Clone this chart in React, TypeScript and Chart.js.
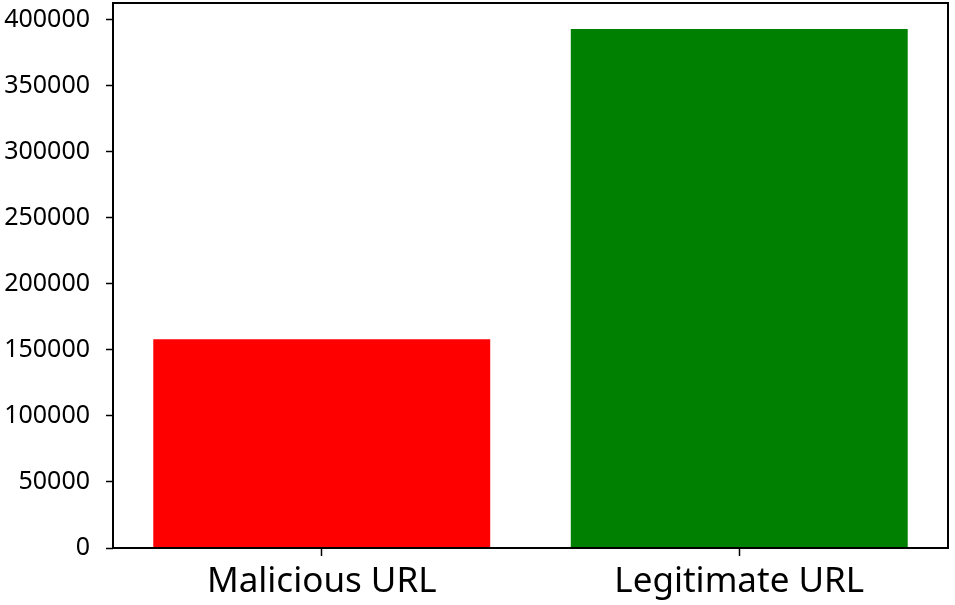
// @ts-nocheck
import React, { useEffect, useRef } from "react";
import { Chart, registerables } from "chart.js";

Chart.register(...registerables);

const categories = ["Malicious URL", "Legitimate URL"];
const counts = [158100, 393200];
const barColors = ["#ff0000", "#008000"];
const yTicks = [0, 50000, 100000, 150000, 200000, 250000, 300000, 350000, 400000];

// draws the full axes box like matplotlib
const frameBox = {
    id: "frameBox",
    afterDraw(chart) {
        const { ctx, chartArea } = chart;
        ctx.save();
        ctx.strokeStyle = "#000";
        ctx.lineWidth = 2;
        ctx.strokeRect(chartArea.left, chartArea.top, chartArea.right - chartArea.left, chartArea.bottom - chartArea.top);
        ctx.restore();
    },
};

const App: React.FC = () => {
    const canvasRef = useRef(null);

    useEffect(() => {
        document.body.style.margin = "0";
        if (!canvasRef.current) return;

        const chart = new Chart(canvasRef.current, {
            type: "bar",
            data: {
                labels: categories,
                datasets: [
                    {
                        data: counts,
                        backgroundColor: barColors,
                        borderWidth: 0,
                        categoryPercentage: 1,
                        barPercentage: 0.807,
                    },
                ],
            },
            options: {
                animation: false,
                responsive: false,
                maintainAspectRatio: false,
                layout: { padding: { top: 3, right: 7, left: 0, bottom: 0 } },
                plugins: { legend: { display: false }, tooltip: { enabled: false } },
                scales: {
                    x: {
                        grid: { offset: false, drawOnChartArea: false, drawTicks: true, tickLength: 8, tickColor: "#000", tickWidth: 1.5 },
                        border: { display: false },
                        ticks: {
                            color: "#000",
                            padding: 5,
                            font: { family: "'Noto Sans'", size: 35 },
                            maxRotation: 0,
                        },
                        afterFit: (scale) => {
                            scale.height = 57;
                            scale.paddingLeft = 0;
                            scale.paddingRight = 0;
                        },
                    },
                    y: {
                        min: 0,
                        max: 412800,
                        grid: { drawOnChartArea: false, drawTicks: true, tickLength: 7, tickColor: "#000", tickWidth: 1.5 },
                        border: { display: false },
                        ticks: {
                            color: "#000",
                            padding: 16,
                            font: { family: "'Noto Sans'", size: 25 },
                            callback: (v) => String(v),
                        },
                        afterBuildTicks: (scale) => {
                            scale.ticks = yTicks.map((v) => ({ value: v }));
                        },
                        afterFit: (scale) => {
                            scale.width = 113;
                            scale.paddingTop = 0;
                            scale.paddingBottom = 0;
                        },
                    },
                },
            },
            plugins: [frameBox],
        });

        return () => {
            chart.destroy();
        };
    }, []);

    return (
        <div style={{ width: 955, height: 605, background: "#fff" }}>
            <canvas ref={canvasRef} width={955} height={605} />
        </div>
    );
};

export default App;
